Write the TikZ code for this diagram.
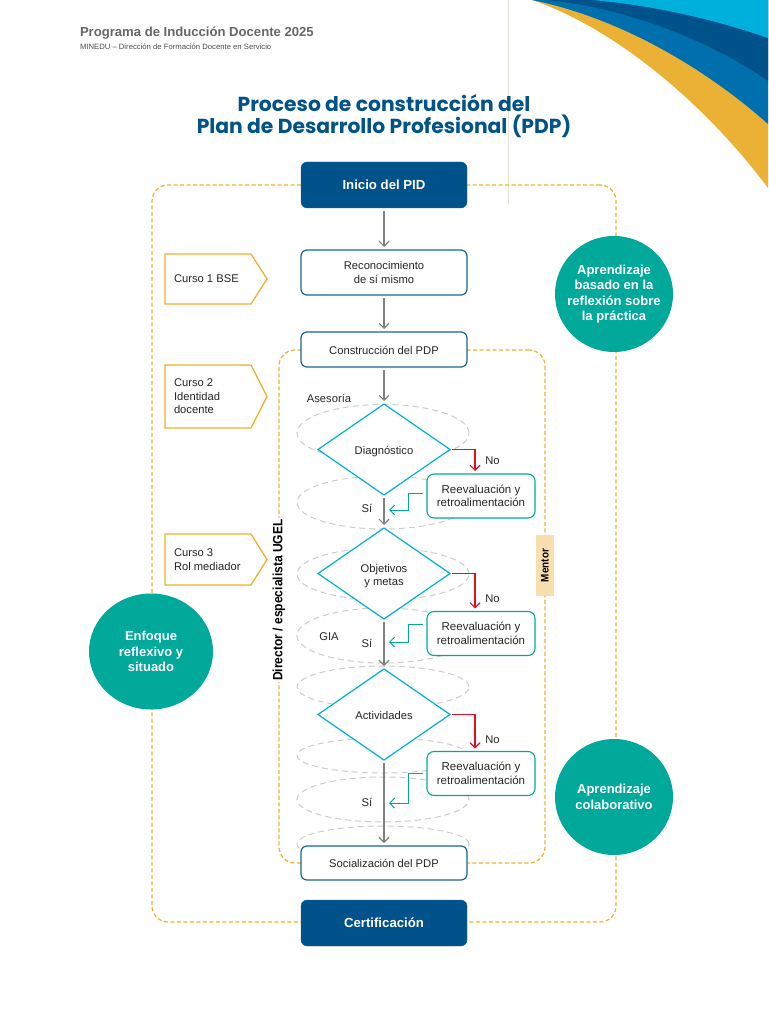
\documentclass[tikz,border=0pt]{standalone}
\usepackage{fontspec}
\setmainfont{Liberation Sans}
\newfontfamily\titlefont{Poppins}
\newfontfamily\narrowfont[FakeStretch=0.9]{Liberation Sans}
\usetikzlibrary{arrows.meta,positioning,shapes.geometric}
\definecolor{pidblue}{HTML}{00538A}
\definecolor{midblue}{HTML}{006FAE}
\definecolor{skyblue}{HTML}{00B0DC}
\definecolor{pidgold}{HTML}{EAB135}
\definecolor{dashgold}{HTML}{F0B030}
\definecolor{pidteal}{HTML}{00A99A}
\definecolor{pidred}{HTML}{E3101F}
\definecolor{mentorbg}{HTML}{F7DFAE}
\definecolor{rayabeige}{HTML}{E4E4D2}

\begin{document}
\begin{tikzpicture}[
	x=1pt,y=-1pt,
	every node/.style={outer sep=0pt,inner sep=0pt,align=center,text=black!85,font=\fontsize{11.2}{13.5}\selectfont},
	mainbox/.style={
		rectangle,
		rounded corners=6pt,
		draw=pidblue!90,
		fill=pidblue,
		minimum width=166pt,
		minimum height=46pt,
		text=white,
		font=\fontsize{13.2}{15}\selectfont\bfseries},
	stepbox/.style={
		rectangle,
		rounded corners=6pt,
		draw=pidblue!90,
		line width=1.2pt,
		fill=white,
		minimum width=166pt},
	choice/.style={
		diamond,
		draw=skyblue,
		line width=1.2pt,
		fill=white,
		minimum width=132pt,
		minimum height=91pt},
	reeval/.style={
		rectangle,
		rounded corners=7pt,
		draw=pidteal,
		line width=1.1pt,
		fill=white,
		minimum width=108pt,
		minimum height=44pt,
		font=\fontsize{11.5}{13.5}\selectfont},
	bubble/.style={
		ellipse,
		fill=pidteal,
		text=white,
		inner xsep=-6pt,
		minimum height=116pt,
		font=\fontsize{13}{15.5}\selectfont\bfseries},
	frame/.style={
		rectangle,
		rounded corners=16pt,
		draw=dashgold,
		line width=1.2pt,
		dash pattern=on 4pt off 2.5pt},
	ring/.style={
		ellipse,
		draw=black!20,
		line width=1pt,
		dash pattern=on 6pt off 4pt,
		minimum width=172pt},
	flecha/.style={-{Straight Barb[length=5pt,width=10pt]},draw=black!50,line width=1.2pt,shorten <=3pt,shorten >=3pt},
	flechano/.style={-{Straight Barb[length=5pt,width=10pt]},draw=pidred,line width=1.1pt,shorten <=2pt,shorten >=3pt},
	flechasi/.style={-{Straight Barb[length=5pt,width=10pt]},draw=pidteal,line width=1pt,shorten <=4pt}
	]
	\useasboundingbox (0,0) rectangle (768,1024);
	% decoration of the page
	\fill[pidgold] (532,0) .. controls (620,30) and (710,110) .. (768,188) -- (768,0) -- cycle;
	\fill[midblue] (532,0) .. controls (620,18) and (705,68) .. (768,124) -- (768,0) -- cycle;
	\fill[pidblue] (545,0) .. controls (620,6) and (710,40) .. (768,81) -- (768,0) -- cycle;
	\fill[skyblue] (592,0) .. controls (650,5) and (710,18) .. (768,38) -- (768,0) -- cycle;
	\coordinate (rayaA) at (508,0);
	\coordinate (rayaB) at (508,204);
	\draw[draw=rayabeige,line width=1pt] (rayaA) -- (rayaB);
	
	\node[anchor=west,text=black!60,font=\fontsize{13.1}{15}\selectfont\bfseries] (programa) at (80,33) {Programa de Inducción Docente 2025};
	\node[anchor=west,text=black!70,font=\fontsize{7.7}{9}\selectfont] (minedu) at (80,46.5) {MINEDU – Dirección de Formación Docente en Servicio};
	\node[text=pidblue,font=\fontsize{20.3}{22}\titlefont\bfseries] (titulo) at (384,116.5) {Proceso de construcción del\\Plan de Desarrollo Profesional (PDP)};
	
	% dashed frames and rings
	\node[frame,minimum width=464pt,minimum height=737pt] (marco) at (384,553.5) {};
	\node[frame,minimum width=266pt,minimum height=513pt] (marcoin) at (412,606.5) {};
	\foreach \n/\y/\h in {1/433/57,2/502.5/53,3/574/52,4/635.5/55,5/687/42,6/755.5/35,7/799.5/45,8/844/36}
	\node[ring,minimum height=\h pt] (ring\n) at (383,\y) {};
	
	% main column
	\node[mainbox] (inicio) at (384,185) {Inicio del PID};
	\node[stepbox,minimum height=45pt,below=42pt of inicio] (recon) {Reconocimiento\\de sí mismo};
	\node[stepbox,minimum height=35pt,below=37pt of recon] (constr) {\rule{0pt}{11pt}Construcción del PDP};
	\node[choice,below=37pt of constr] (diag) {\rule{0pt}{13pt}Diagnóstico};
	\node[choice,below=33pt of diag] (obje) {\rule{0pt}{13pt}Objetivos\\y metas};
	\node[choice,below=50pt of obje] (acti) {\rule{0pt}{10pt}Actividades};
	\node[stepbox,minimum height=34pt,below=86pt of acti] (socia) {\rule{0pt}{10pt}Socialización del PDP};
	\node[mainbox,below=20pt of socia] (certi) {Certificación};
	
	\node[reeval] (reevalA) at (481,496) {Reevaluación y\\retroalimentación};
	\node[reeval] (reevalB) at (481,633.5) {Reevaluación y\\retroalimentación};
	\node[reeval] (reevalC) at (481,773.5) {Reevaluación y\\retroalimentación};
	
	% course tags
	\foreach \n/\t/\b/\txt in {cursoA/254/304/Curso 1 BSE,cursoB/365/428/{Curso 2\\Identidad\\docente},cursoC/534/585/{Curso 3\\Rol mediador}}{
		\pgfmathsetmacro{\m}{(\t+\b)/2}
		\draw[draw=dashgold,line width=1.3pt,fill=white] (165,\t) -- (251,\t) -- (267,\m) -- (251,\b) -- (165,\b) -- cycle;
		\node[anchor=west,align=left] (\n) at (174,\m) {\txt};
	}
	
	% circles
	\node[bubble,minimum width=118pt] (reflexion) at (614,294) {Aprendizaje\\basado en la\\reflexión sobre\\la práctica};
	\node[bubble,minimum width=124pt] (enfoque) at (151,651.5) {Enfoque\\reflexivo y\\situado};
	\node[bubble,minimum width=118pt] (colabora) at (614,797) {Aprendizaje\\colaborativo};
	
	% side labels
	\node[rectangle,fill=mentorbg,rotate=90,minimum width=61pt,minimum height=18pt,text=black,font=\fontsize{11}{12}\narrowfont\bfseries] (mentor) at (545,565.5) {Mentor};
	\node[fill=white,rotate=90,inner ysep=1pt,inner xsep=1pt,text=black,font=\fontsize{13.4}{15}\narrowfont\bfseries] (director) at (279,600) {Director / especialista UGEL};
	
	\node (asesoria) at (329,398.5) {Asesoría};
	\node (gia) at (329,637) {GIA};
	\foreach \n/\y in {noA/461,noB/599,noC/740}
	\node (\n) at (492.5,\y) {No};
	\foreach \n/\y in {siA/508,siB/643,siC/802}
	\node (\n) at (367,\y) {Sí};
	
	% connectors
	\foreach \i/\j in {inicio/recon,recon/constr,constr/diag,diag/obje,obje/acti,acti/socia}
	\draw[flecha] (\i.south) -- (\j.north);
	\foreach \i/\j in {diag/reevalA,obje/reevalB,acti/reevalC}
	\draw[flechano] (\i.east) -| ([xshift=-6pt]\j.north);
	\coordinate (llegaA) at (389,510);
	\coordinate (llegaB) at (389,642);
	\coordinate (llegaC) at (389,803);
	\foreach \i/\j/\s in {reevalA/llegaA/3,reevalB/llegaB/9.5,reevalC/llegaC/0}
	\draw[flechasi] ([yshift=\s pt]\i.west) -- ++(-19,0) |- (\j);
\end{tikzpicture}
\end{document}
